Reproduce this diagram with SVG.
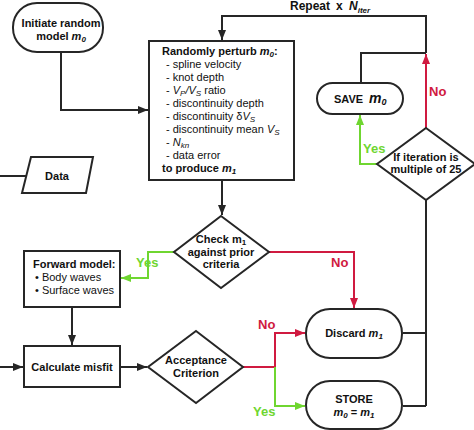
<svg xmlns="http://www.w3.org/2000/svg" width="474" height="430" viewBox="0 0 474 430">
<style>
  .shape { fill: #ffffff; stroke: #262626; stroke-width: 2; }
  .ln { fill: none; stroke: #262626; stroke-width: 2; }
  .red { fill: none; stroke: #d01a40; stroke-width: 2; }
  .grn { fill: none; stroke: #6fd630; stroke-width: 2; }
  text { font-family: "Liberation Sans", Arial, sans-serif; fill: #111111; }
  .b { font-weight: bold; font-size: 11px; }
  .r { font-size: 11px; }
  .it { font-style: italic; }
  .lblr { font-weight: bold; font-size: 13px; fill: #d01a40; }
  .lblg { font-weight: bold; font-size: 13px; fill: #6fd630; }
</style>
<defs>
  <marker id="ab" viewBox="0 0 10 8" refX="10" refY="4" markerWidth="10" markerHeight="8" markerUnits="userSpaceOnUse" orient="auto"><path d="M0,0 L10,4 L0,8 z" fill="#262626"/></marker>
  <marker id="ar" viewBox="0 0 10 8" refX="10" refY="4" markerWidth="10" markerHeight="8" markerUnits="userSpaceOnUse" orient="auto"><path d="M0,0 L10,4 L0,8 z" fill="#d01a40"/></marker>
  <marker id="ag" viewBox="0 0 10 8" refX="10" refY="4" markerWidth="10" markerHeight="8" markerUnits="userSpaceOnUse" orient="auto"><path d="M0,0 L10,4 L0,8 z" fill="#6fd630"/></marker>
</defs>
<rect width="474" height="430" fill="#ffffff"/>

<g id="connectors">
  <path class="ln" d="M61,52 V110 H148" marker-end="url(#ab)"/>
  <path class="ln" d="M361,83 V53 H426"/>
  <path class="ln" d="M426,53 V16 H222 V40" marker-end="url(#ab)"/>
  <path class="red" d="M426,128 V54" marker-end="url(#ar)"/>
  <path class="ln" d="M222,180 V215" marker-end="url(#ab)"/>
  <path class="red" d="M269,252 H354 V308" marker-end="url(#ar)"/>
  <path class="grn" d="M174,252 H148 V278 H121" marker-end="url(#ag)"/>
  <path class="ln" d="M72,307 V345" marker-end="url(#ab)"/>
  <path class="ln" d="M27,176 H-3 V367 H23" marker-end="url(#ab)"/>
  <path class="ln" d="M120,367 H147" marker-end="url(#ab)"/>
  <path class="red" d="M243,367 H275 V333 H305" marker-end="url(#ar)"/>
  <path class="grn" d="M275,367 V406 H305" marker-end="url(#ag)"/>
  <path class="ln" d="M403,333 H426"/>
  <path class="ln" d="M403,406 H426"/>
  <path class="ln" d="M426,200 V406"/>
  <path class="grn" d="M377,164 H360 V115" marker-end="url(#ag)"/>
  <text class="b" y="10" style="font-size:12px"><tspan x="290">Repeat</tspan><tspan x="336">x</tspan><tspan x="349" class="it">N</tspan><tspan class="it" font-size="8" dy="3">iter</tspan></text>
  <text class="lblr" x="429" y="96">No</text>
  <text class="lblg" x="363" y="153">Yes</text>
  <text class="lblr" x="331" y="267">No</text>
  <text class="lblg" x="136" y="267">Yes</text>
  <text class="lblr" x="258" y="329">No</text>
  <text class="lblg" x="253" y="416">Yes</text>
</g>

<g id="initiate">
  <rect class="shape" x="13" y="3" width="90" height="49" rx="24"/>
  <text class="b" x="61" y="27" text-anchor="middle">Initiate random</text>
  <text class="b" x="61" y="40" text-anchor="middle">model <tspan class="it">m</tspan><tspan class="it" font-size="8" dy="2">0</tspan></text>
</g>

<g id="perturb">
  <rect class="shape" x="149" y="41" width="145" height="139"/>
  <text class="b" x="162" y="55">Randomly perturb <tspan class="it">m</tspan><tspan class="it" font-size="8" dy="2">0</tspan><tspan dy="-2">:</tspan></text>
  <text class="r" x="166" y="68">- spline velocity</text>
  <text class="r" x="166" y="81">- knot depth</text>
  <text class="r" x="166" y="94">- <tspan class="it">V</tspan><tspan class="it" font-size="8" dy="2">P</tspan><tspan class="it" dy="-2">/V</tspan><tspan class="it" font-size="8" dy="2">S</tspan><tspan dy="-2"> ratio</tspan></text>
  <text class="r" x="166" y="107">- discontinuity depth</text>
  <text class="r" x="166" y="120">- discontinuity δ<tspan class="it">V</tspan><tspan class="it" font-size="8" dy="2">S</tspan></text>
  <text class="r" x="166" y="133">- discontinuity mean <tspan class="it">V</tspan><tspan class="it" font-size="8" dy="2">S</tspan></text>
  <text class="r" x="166" y="146">- <tspan class="it">N</tspan><tspan class="it" font-size="8" dy="2">kn</tspan></text>
  <text class="r" x="166" y="159">- data error</text>
  <text class="b" x="162" y="172">to produce <tspan class="it">m</tspan><tspan class="it" font-size="8" dy="2">1</tspan></text>
</g>

<g id="save">
  <rect class="shape" x="317" y="83" width="86" height="31" rx="15.5"/>
  <text class="b" y="103"><tspan x="334">SAVE</tspan><tspan x="369" class="it" style="font-size:14px">m</tspan><tspan class="it" font-size="9" dy="2">0</tspan></text>
</g>

<g id="iteration">
  <polygon class="shape" points="426,128 475,164 426,200 377,164"/>
  <text class="b" x="426" y="161" text-anchor="middle">If iteration is</text>
  <text class="b" x="426" y="173" text-anchor="middle">multiple of 25</text>
</g>

<g id="data">
  <polygon class="shape" points="31,157 93,157 86,193 22,193"/>
  <text class="b" x="57" y="180" text-anchor="middle">Data</text>
</g>

<g id="check">
  <polygon class="shape" points="221,216 269,252 221,288 174,252"/>
  <text class="b" x="221" y="243" text-anchor="middle">Check m<tspan font-size="8" dy="1.5">1</tspan></text>
  <text class="b" x="221" y="256" text-anchor="middle">against prior</text>
  <text class="b" x="221" y="268" text-anchor="middle">criteria</text>
</g>

<g id="forward">
  <rect class="shape" x="24" y="251" width="96" height="56"/>
  <text class="b" x="33" y="268">Forward model:</text>
  <text class="r" x="35" y="281">• Body waves</text>
  <text class="r" x="35" y="294">• Surface waves</text>
</g>

<g id="misfit">
  <rect class="shape" x="24" y="346" width="96" height="41"/>
  <text class="b" x="72" y="371" text-anchor="middle">Calculate misfit</text>
</g>

<g id="acceptance">
  <polygon class="shape" points="196,331 243,367 196,403 148,367"/>
  <text class="b" x="196" y="364" text-anchor="middle">Acceptance</text>
  <text class="b" x="196" y="377" text-anchor="middle">Criterion</text>
</g>

<g id="discard">
  <rect class="shape" x="306" y="309" width="96" height="49" rx="24"/>
  <text class="b" x="354" y="337" text-anchor="middle">Discard <tspan class="it">m</tspan><tspan class="it" font-size="8" dy="2">1</tspan></text>
</g>

<g id="store">
  <rect class="shape" x="306" y="381" width="96" height="48" rx="24"/>
  <text class="b" x="354" y="403" text-anchor="middle">STORE</text>
  <text class="b" x="354" y="416" text-anchor="middle"><tspan class="it">m</tspan><tspan class="it" font-size="8" dy="2">0</tspan><tspan dy="-2"> = </tspan><tspan class="it">m</tspan><tspan class="it" font-size="8" dy="2">1</tspan></text>
</g>
</svg>
